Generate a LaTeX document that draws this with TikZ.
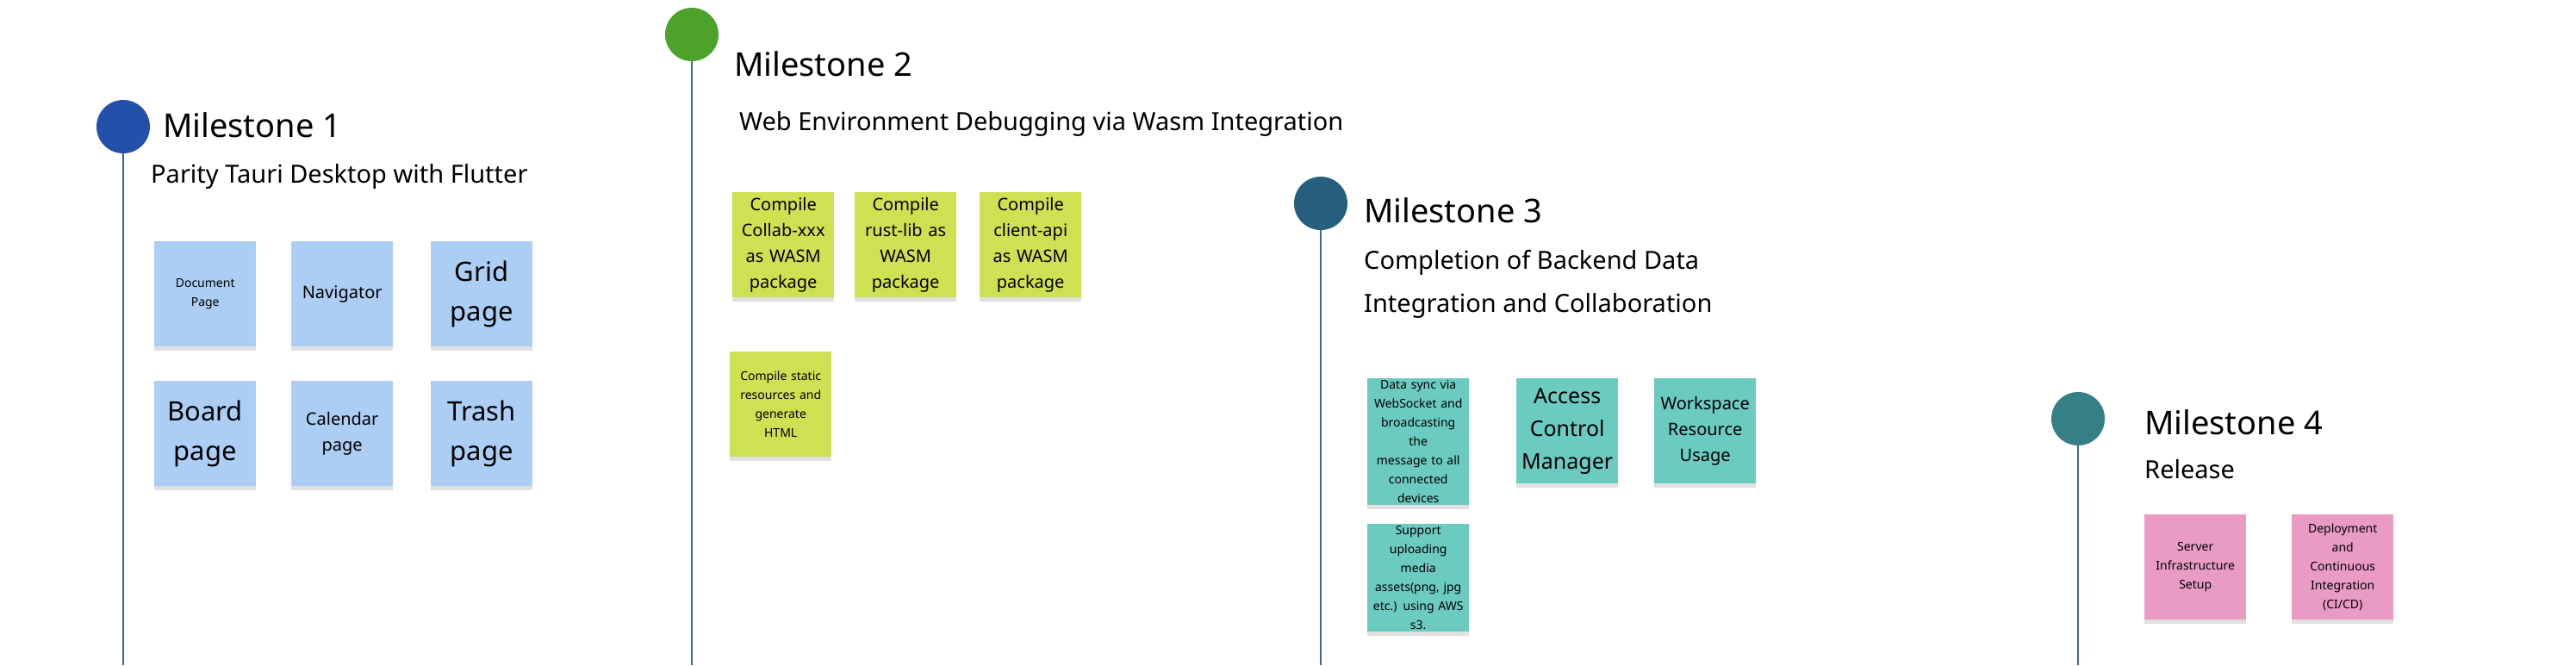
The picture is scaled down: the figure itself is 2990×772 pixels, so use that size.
\documentclass[tikz,border=0pt]{standalone}
\usepackage{fontspec}
\setmainfont{Noto Sans}
\begin{document}
\begin{tikzpicture}[x=1pt,y=-1pt,
  dot/.style={circle,minimum size=62pt,inner sep=0pt},
  tline/.style={draw=black!30!blue!40!teal,line width=2.5pt,color={rgb,255:red,58;green,104;blue,140}},
  ttl/.style={anchor=west,font=\fontsize{38}{44}\selectfont\bfseries,inner sep=0pt},
  sub/.style={anchor=north west,font=\fontsize{29}{50}\selectfont,inner sep=0pt,align=left},
  st/.style={anchor=north west,minimum width=118pt,minimum height=122pt,inner sep=2pt,text width=110pt,align=center,
     preaction={fill=black,opacity=0.12,transform canvas={yshift=-5pt}}},
  blu/.style={st,fill={rgb,255:red,172;green,206;blue,245}},
  grn/.style={st,fill={rgb,255:red,207;green,225;blue,82}},
  tea/.style={st,fill={rgb,255:red,108;green,203;blue,192}},
  pnk/.style={st,fill={rgb,255:red,233;green,155;blue,196}},
  fs/.style={font=\fontsize{14}{22}\selectfont},
  fm/.style={font=\fontsize{20}{30}\selectfont},
  fl/.style={font=\fontsize{31}{46}\selectfont}]
\useasboundingbox[fill=white] (0,0) rectangle (2990,772);
\definecolor{lc}{RGB}{58,104,140}
% Milestone 1
\node[dot,fill={rgb,255:red,35;green,80;blue,168}] (c1) at (143,147) {};
\coordinate (e1) at (143,772);
\draw[lc,line width=2.5pt] (c1.south) -- (e1);
\node[ttl] (t1) at (189,145) {Milestone 1};
\node[sub] (s1) at (175,190) {Parity Tauri Desktop with Flutter};
\node[blu,fs] (a1) at (179,280) {Document\\Page};
\node[blu,fm] (a2) at (338,280) {Navigator};
\node[blu,fl] (a3) at (500,280) {Grid\\page};
\node[blu,fl] (a4) at (179,442) {Board\\page};
\node[blu,fm] (a5) at (338,442) {Calendar\\page};
\node[blu,fl] (a6) at (500,442) {Trash\\page};
% Milestone 2
\node[dot,fill={rgb,255:red,76;green,162;blue,42}] (c2) at (803,40) {};
\coordinate (e2) at (803,772);
\draw[lc,line width=2.5pt] (c2.south) -- (e2);
\node[ttl] (t2) at (852,74) {Milestone 2};
\node[sub] (s2) at (858,129) {Web Environment Debugging via Wasm Integration};
\node[grn,fm] (b1) at (850,223) {Compile\\Collab-xxx\\as WASM\\package};
\node[grn,fm] (b2) at (992,223) {Compile\\rust-lib as\\WASM\\package};
\node[grn,fm] (b3) at (1137,223) {Compile\\client-api\\as WASM\\package};
\node[grn,fs] (b4) at (847,408) {Compile static\\resources and\\generate\\HTML};
% Milestone 3
\node[dot,fill={rgb,255:red,38;green,94;blue,126}] (c3) at (1533,236) {};
\coordinate (e3) at (1533,772);
\draw[lc,line width=2.5pt] (c3.south) -- (e3);
\node[ttl] (t3) at (1583,244) {Milestone 3};
\node[sub] (s3) at (1583,290) {Completion of Backend Data\\Integration and Collaboration};
\node[tea,fs] (d1) at (1587,439) {Data sync via\\WebSocket and\\broadcasting the\\message to all\\connected devices};
\node[tea,fl,font=\fontsize{25}{38}\selectfont] (d2) at (1760,439) {Access\\Control\\Manager};
\node[tea,fm] (d3) at (1920,439) {Workspace\\Resource\\Usage};
\node[tea,fs] (d4) at (1587,608) {Support\\uploading media\\assets(png, jpg\\etc.) using AWS\\s3.};
% Milestone 4
\node[dot,fill={rgb,255:red,53;green,127;blue,134}] (c4) at (2412,486) {};
\coordinate (e4) at (2412,772);
\draw[lc,line width=2.5pt] (c4.south) -- (e4);
\node[ttl] (t4) at (2489,490) {Milestone 4};
\node[sub] (s4) at (2489,533) {Release};
\node[pnk,fs] (f1) at (2489,597) {Server\\Infrastructure\\Setup};
\node[pnk,fs] (f2) at (2660,597) {Deployment\\and\\Continuous\\Integration\\(CI/CD)};
\end{tikzpicture}
\end{document}
